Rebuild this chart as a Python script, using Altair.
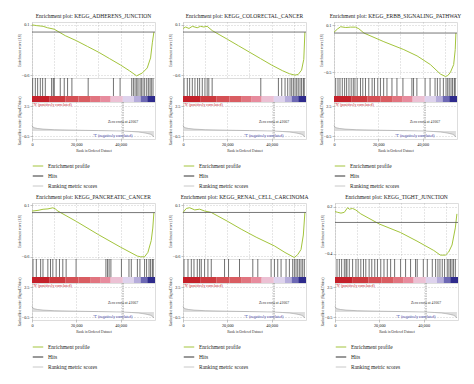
import altair as alt
import pandas as pd

FONT = "Liberation Serif"

titles = [
    "Enrichment plot: KEGG_ADHERENS_JUNCTION",
    "Enrichment plot: KEGG_COLORECTAL_CANCER",
    "Enrichment plot: KEGG_ERBB_SIGNALING_PATHWAY",
    "Enrichment plot: KEGG_PANCREATIC_CANCER",
    "Enrichment plot: KEGG_RENAL_CELL_CARCINOMA",
    "Enrichment plot: KEGG_TIGHT_JUNCTION",
]

legend_labels = ["Enrichment profile", "Hits", "Ranking metric scores"]
legend_colors = ["#a3c43c", "#333333", "#c8c8c8"]

# running enrichment score curves
es_x_1 = [0, 2000, 5000, 7000, 10000, 15000, 20000, 25000, 30000, 35000, 40000, 44000, 47200, 49800, 52000, 53500, 54300, 55000]
es_y_1 = [0.10, 0.09, 0.08, 0.06, 0.04, -0.05, -0.12, -0.20, -0.28, -0.37, -0.46, -0.54, -0.61, -0.57, -0.50, -0.36, -0.15, 0.0]
es_x_2 = [0, 1200, 2700, 4200, 6400, 7900, 9400, 10900, 13200, 20000, 25000, 30000, 35000, 40000, 45000, 48000, 50500, 52000, 53500, 54500, 55000]
es_y_2 = [0.05, 0.07, 0.05, 0.08, 0.06, 0.08, 0.07, 0.08, 0.02, -0.10, -0.19, -0.28, -0.37, -0.46, -0.54, -0.58, -0.60, -0.59, -0.53, -0.38, 0.0]
es_x_3 = [0, 1500, 3000, 5300, 7500, 9700, 11200, 13500, 22500, 31500, 37500, 43500, 48000, 50250, 51300, 52500, 54000, 54700, 55000]
es_y_3 = [0.01, 0.05, 0.08, 0.07, 0.075, 0.075, 0.055, 0.0, -0.11, -0.21, -0.29, -0.40, -0.52, -0.55, -0.54, -0.50, -0.40, -0.21, 0.0]
es_x_4 = [0, 2700, 5000, 7200, 9400, 10500, 11700, 20000, 30000, 40000, 47500, 49000, 50800, 52300, 53800, 54500, 55000]
es_y_4 = [0.02, 0.03, 0.045, 0.05, 0.065, 0.05, 0.02, -0.12, -0.30, -0.47, -0.59, -0.60, -0.60, -0.54, -0.38, -0.21, 0.0]
es_x_5 = [0, 1500, 3000, 5300, 7500, 9750, 11250, 12750, 20000, 26250, 33000, 41250, 46000, 50250, 51750, 53250, 54300, 55000]
es_y_5 = [0.0, 0.055, 0.065, 0.035, 0.045, 0.02, 0.01, 0.0, -0.12, -0.23, -0.34, -0.46, -0.55, -0.62, -0.58, -0.51, -0.31, 0.0]
es_x_6 = [0, 1200, 2700, 4200, 5700, 6450, 7950, 9400, 11650, 20000, 29600, 37000, 44550, 47550, 49800, 51300, 52800, 54300, 55000]
es_y_6 = [0.14, 0.13, 0.12, 0.13, 0.19, 0.17, 0.18, 0.16, 0.11, -0.02, -0.13, -0.24, -0.36, -0.42, -0.42, -0.38, -0.29, -0.07, 0.11]

# gene-set hit positions
hits_1 = [300, 1500, 2550, 3750, 4800, 6000, 8850, 9600, 10050, 12750, 14550, 16050, 18000, 25350, 36750, 39750,
          45000, 45750, 46500, 47250, 47850, 48750, 49350, 50100, 50850, 51750, 52500, 53250, 53850, 54600]
hits_2 = [450, 1950, 3000, 4200, 5400, 6600, 7500, 8700, 9900, 10900, 11650, 13150, 35100, 43050, 44550, 46050,
          47250, 48300, 49050, 49800, 50550, 51300, 52000, 52800, 53500, 54300, 54700]
hits_3 = [750, 1800, 2700, 3750, 4800, 5700, 6750, 7750, 8700, 9450, 10450, 11950, 13000, 14200, 15700, 17200,
          18250, 19750, 20950, 22400, 23900, 26150, 28400, 31100, 35150, 35900, 37400, 41100, 43350, 45600, 46650,
          47850, 49350, 50550, 51300, 52000, 52800, 53500, 54300, 54700]
hits_4 = [450, 1950, 3900, 4950, 7150, 8350, 9400, 10900, 12400, 13900, 15400, 19900, 33350, 34100, 34800, 35600,
          40350, 43750, 44800, 47550, 48700, 50800, 51700, 52800, 53500, 54300, 54700]
hits_5 = [450, 2250, 3750, 4950, 6450, 7500, 8250, 9750, 11250, 12750, 18750, 20550, 25500, 31500, 33750, 39750,
          41250, 42750, 44250, 46500, 48000, 49500, 50250, 51000, 51750, 52500, 53250, 54000, 54750]
hits_6 = [900, 1950, 3000, 4200, 4950, 5400, 6450, 7950, 9450, 10450, 11650, 12850, 13900, 15400, 16600, 17950,
          19150, 20650, 22100, 23600, 25100, 26900, 29600, 31850, 34100, 36350, 37100, 39850, 41650, 43900, 45400,
          46450, 47350, 48400, 49450, 50650, 51400, 52100, 52800, 53500, 54300]

# heat-map bar segments of ranked metric
bar_start = [0, 8000, 15000, 21000, 26500, 31000, 35500, 41000, 46000, 49000, 52000]
bar_end = [8000, 15000, 21000, 26500, 31000, 35500, 41000, 46000, 49000, 52000, 55500]
bar_metric = [1.0, 0.85, 0.7, 0.6, 0.45, 0.35, 0.12, -0.08, -0.25, -0.6, -1.0]

# ranked list metric
rank_x = [0, 300, 1000, 2500, 5000, 10000, 20000, 30000, 38000, 41000, 45000, 48000, 50000, 52000, 53500, 54500, 55000]
rank_y = [0.55, 0.42, 0.33, 0.25, 0.19, 0.13, 0.08, 0.04, 0.01, 0.0, -0.05, -0.1, -0.16, -0.24, -0.33, -0.45, -0.6]

zero_cross = 41067
pos_label = "'N' (positively correlated)"
neg_label = "'T' (negatively correlated)"

x_ticks = [0, 10000, 20000, 30000, 40000, 50000]
rank_ticks = [-0.5, 0.0, 0.5, 1.0, 1.5, 2.0, 2.5]

es_sets = [(es_x_1, es_y_1), (es_x_2, es_y_2), (es_x_3, es_y_3), (es_x_4, es_y_4), (es_x_5, es_y_5), (es_x_6, es_y_6)]
hit_sets = [hits_1, hits_2, hits_3, hits_4, hits_5, hits_6]
es_domains = [[-0.64, 0.14], [-0.64, 0.14], [-0.57, 0.14], [-0.63, 0.13], [-0.64, 0.13], [-0.47, 0.25]]
es_tick_sets = [
    [0.1, 0.0, -0.1, -0.2, -0.3, -0.4, -0.5, -0.6],
    [0.1, 0.0, -0.1, -0.2, -0.3, -0.4, -0.5, -0.6],
    [0.1, 0.0, -0.1, -0.2, -0.3, -0.4, -0.5],
    [0.1, 0.0, -0.1, -0.2, -0.3, -0.4, -0.5, -0.6],
    [0.1, 0.0, -0.1, -0.2, -0.3, -0.4, -0.5, -0.6],
    [0.2, 0.1, 0.0, -0.1, -0.2, -0.3, -0.4],
]

W = 123
X_SCALE = alt.Scale(domain=[0, 55500], nice=False, zero=False)
GRID = dict(grid=True, gridDash=[1, 2], gridColor="#999999", gridWidth=0.5)
AX = dict(labelFontSize=4.3, titleFontSize=3.6, tickSize=2, tickWidth=0.5, labelPadding=1, titlePadding=2,
          domain=False, labelFont=FONT, titleFont=FONT, titleFontWeight="normal", labelColor="#222",
          titleColor="#333", labelOverlap=False, labelFlush=False, labelBound=False)
YEXT = dict(minExtent=9, maxExtent=9)


def panel(i):
    ex, ey = es_sets[i]
    es_df = pd.DataFrame({"rank": ex, "es": ey, "series": legend_labels[0]})
    es_line = alt.Chart(es_df).mark_line(strokeWidth=1).encode(
        x=alt.X("rank:Q", scale=X_SCALE,
                axis=alt.Axis(values=x_ticks, labels=False, ticks=False, domain=False, title=None, **GRID)),
        y=alt.Y("es:Q", scale=alt.Scale(domain=es_domains[i], nice=False, zero=False),
                axis=alt.Axis(values=es_tick_sets[i], format=".1f", title="Enrichment score (ES)", **GRID, **AX, **YEXT)),
        color=alt.Color("series:N", scale=alt.Scale(domain=legend_labels, range=legend_colors),
                        legend=alt.Legend(orient="none", legendX=0, legendY=138, title=None,
                                          symbolType="stroke", symbolSize=110, symbolStrokeWidth=1,
                                          labelFontSize=5.5, labelFont=FONT, labelColor="#222",
                                          rowPadding=-2, labelOffset=4, padding=0)),
    )
    zero = alt.Chart(pd.DataFrame({"v": [0]})).mark_rule(color="#555", strokeWidth=0.8).encode(y=alt.datum(0))
    es_chart = alt.layer(es_line, zero).properties(
        width=W, height=56,
        title=alt.TitleParams(titles[i], fontSize=5.5, font=FONT, fontWeight="normal", offset=3,
                              anchor="middle", color="#222"))

    hits_chart = alt.Chart(pd.DataFrame({"rank": hit_sets[i]})).mark_rule(
        color="black", strokeWidth=0.8, opacity=0.7).encode(
        x=alt.X("rank:Q", scale=X_SCALE, axis=None)).properties(width=W, height=18)

    bar_df = pd.DataFrame({"start": bar_start, "end": bar_end, "metric": bar_metric})
    bar_chart = alt.Chart(bar_df).mark_rect().encode(
        x=alt.X("start:Q", scale=X_SCALE, axis=None), x2="end:Q",
        color=alt.Color("metric:Q", scale=alt.Scale(domain=[-1, -0.4, -0.1, 0.1, 0.5, 1],
                                                    range=["#2e2a8c", "#8c88c8", "#dcd4ee", "#ecc6d8", "#dd6a70", "#c4202a"]),
                        legend=None)).properties(width=W, height=6)

    rank_df = pd.DataFrame({"rank": rank_x, "metric": rank_y})
    r_y = alt.Scale(domain=[-0.8, 2.9], nice=False, zero=False)
    area = alt.Chart(rank_df).mark_area(color="#cfcfcf", line={"color": "#8a8a8a", "strokeWidth": 0.5}).encode(
        x=alt.X("rank:Q", scale=X_SCALE,
                axis=alt.Axis(values=x_ticks, format=",d", title="Rank in Ordered Dataset", **GRID, **AX)),
        y=alt.Y("metric:Q", scale=r_y,
                axis=alt.Axis(values=rank_ticks, format=".1f", title="Ranked list metric (Signal2Noise)", **GRID, **AX, **YEXT)),
    )
    zc = alt.Chart(pd.DataFrame({"z": [zero_cross]})).mark_rule(color="#333", strokeWidth=0.5, strokeDash=[1.5, 1]).encode(
        x="z:Q")
    zc_text = alt.Chart(pd.DataFrame({"z": [zero_cross]})).mark_text(fontSize=3.8, font=FONT, color="#333").encode(
        x="z:Q", y=alt.datum(0.9), text=alt.value(f"Zero cross at {zero_cross}"))
    pos_text = alt.Chart(pd.DataFrame({"t": [pos_label]})).mark_text(fontSize=3.8, font=FONT, color="#c4202a",
                                                                       align="left", dx=1).encode(
        x=alt.datum(0), y=alt.datum(2.6), text="t:N")
    neg_text = alt.Chart(pd.DataFrame({"t": [neg_label]})).mark_text(fontSize=3.8, font=FONT, color="#3a36a0").encode(
        x=alt.datum(36500), y=alt.datum(-0.5), text="t:N")
    rank_chart = alt.layer(area, zc, zc_text, pos_text, neg_text).properties(width=W, height=37)

    return alt.vconcat(es_chart, hits_chart, bar_chart, rank_chart, spacing=0, bounds="flush").resolve_scale(
        color="independent")


row1 = alt.hconcat(panel(0), panel(1), panel(2), spacing=10).resolve_scale(color="independent")
row2 = alt.hconcat(panel(3), panel(4), panel(5), spacing=10).resolve_scale(color="independent")
chart = alt.vconcat(row1, row2, spacing=3).resolve_scale(color="independent").properties(
    padding={"left": 8, "top": 5, "right": 0, "bottom": 0}
).configure_view(stroke="#333", strokeWidth=0.6).configure_axis(labelOverlap=False).configure(
    font=FONT, background="white")

chart.save("out.html", embed_options={"renderer": "svg", "actions": False})
